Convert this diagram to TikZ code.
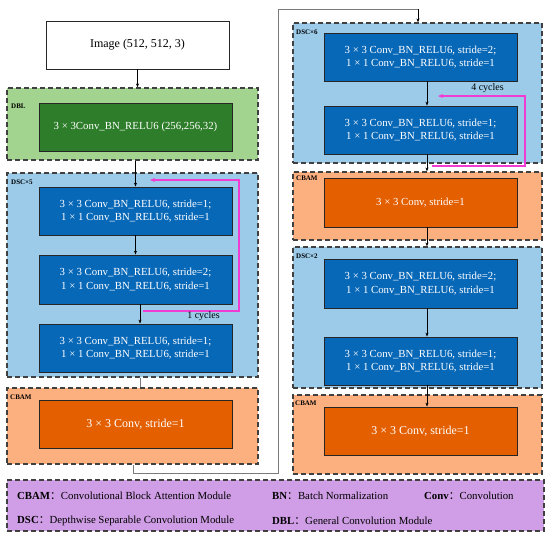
\documentclass[tikz,border=0pt]{standalone}
\usepackage{fontspec}
\setmainfont{Liberation Serif}
\newfontfamily\cjk{Noto Sans CJK SC}
\usetikzlibrary{arrows.meta}
\definecolor{lgreen}{HTML}{A2D490}
\definecolor{dgreen}{HTML}{2E7D2A}
\definecolor{lblue}{HTML}{9CCBEA}
\definecolor{dblue}{HTML}{0868B8}
\definecolor{lorange}{HTML}{FCB07F}
\definecolor{dorange}{HTML}{E35F00}
\definecolor{lpurple}{HTML}{D09EE6}
\definecolor{dashc}{HTML}{404040}
\definecolor{pinkc}{HTML}{F03CD2}
\definecolor{grayc}{HTML}{7A7A7A}
\newcommand{\fc}{{\cjk ：}}
\begin{document}
\begin{tikzpicture}[x=1pt,y=-1pt,
  outer/.style={draw=dashc, line width=1.2pt, dash pattern=on 5pt off 3pt, inner sep=0pt},
  inbox/.style={draw=black!85, line width=0.8pt, inner sep=0pt, text=white, align=center,
     minimum width=193pt, font=\fontsize{10.8}{13.5}\selectfont},
  grp/.style={font=\bfseries\fontsize{7}{8}\selectfont, anchor=west, inner sep=0pt},
  arr/.style={-{Stealth[length=4pt,width=3pt]}, line width=0.6pt, black},
  cyc/.style={-{Stealth[length=5pt,width=4pt]}, line width=1.2pt, pinkc},
  note/.style={font=\fontsize{10}{12}\selectfont, inner sep=0pt},
  leg/.style={font=\fontsize{10.8}{13}\selectfont, anchor=west, inner sep=0pt}]
\useasboundingbox (0,0) rectangle (550,539);

% outer groups
\node[outer, fill=lgreen, minimum width=251pt, minimum height=72pt] (dbl) at (132.5,124) {};
\node[outer, fill=lblue, minimum width=251pt, minimum height=204pt] (dsc5) at (132.5,275) {};
\node[outer, fill=lorange, minimum width=251pt, minimum height=76pt] (cbam1) at (132.5,426) {};
\node[outer, fill=lblue, minimum width=249pt, minimum height=140pt] (dsc6) at (417.5,93) {};
\node[outer, fill=lorange, minimum width=249pt, minimum height=68pt] (cbam2) at (417.5,206) {};
\node[outer, fill=lblue, minimum width=249pt, minimum height=141pt] (dsc2) at (417.5,317.5) {};
\node[outer, fill=lorange, minimum width=249pt, minimum height=79pt] (cbam3) at (417.5,434.5) {};
\node[outer, fill=lpurple, minimum width=537pt, minimum height=51pt] (legend) at (275.5,505.5) {};

% group labels
\node[grp] (ldbl) at (11,106) {DBL};
\node[grp] (ldsc5) at (11,182) {DSC×5};
\node[grp] (lcbam1) at (10,397) {CBAM};
\node[grp] (ldsc6) at (296,32) {DSC×6};
\node[grp] (lcbam2) at (296,178) {CBAM};
\node[grp] (ldsc2) at (296,256) {DSC×2};
\node[grp] (lcbam3) at (295,403) {CBAM};

% inner boxes
\node[draw=black!85, line width=0.8pt, fill=white, minimum width=183pt, minimum height=48pt,
  font=\fontsize{12}{14}\selectfont] (img) at (137.5,45) {Image (512, 512, 3)};
\node[inbox, fill=dgreen, minimum height=48pt] (dblc) at (135.5,127) {3 × 3Conv\_BN\_RELU6 (256,256,32)};
\node[inbox, fill=dblue, minimum height=48pt] (a1) at (135.5,211) {3 × 3 Conv\_BN\_RELU6, stride=1;\\1 × 1 Conv\_BN\_RELU6, stride=1};
\node[inbox, fill=dblue, minimum height=49pt] (a2) at (135.5,279.5) {3 × 3 Conv\_BN\_RELU6, stride=2;\\1 × 1 Conv\_BN\_RELU6, stride=1};
\node[inbox, fill=dblue, minimum height=48pt] (a3) at (135.5,348) {3 × 3 Conv\_BN\_RELU6, stride=1;\\1 × 1 Conv\_BN\_RELU6, stride=1};
\node[inbox, fill=dorange, minimum height=48pt, font=\fontsize{12}{14}\selectfont] (c1) at (135.5,424) {3 × 3 Conv, stride=1};
\node[inbox, fill=dblue, minimum height=48pt] (b1) at (420.5,57) {3 × 3 Conv\_BN\_RELU6, stride=2;\\1 × 1 Conv\_BN\_RELU6, stride=1};
\node[inbox, fill=dblue, minimum height=48pt] (b2) at (420.5,130) {3 × 3 Conv\_BN\_RELU6, stride=1;\\1 × 1 Conv\_BN\_RELU6, stride=1};
\node[inbox, fill=dorange, minimum height=49pt] (c2) at (420.5,202.5) {3 × 3 Conv, stride=1};
\node[inbox, fill=dblue, minimum height=49pt] (d1) at (420.5,283.5) {3 × 3 Conv\_BN\_RELU6, stride=2;\\1 × 1 Conv\_BN\_RELU6, stride=1};
\node[inbox, fill=dblue, minimum height=48pt] (d2) at (420.5,361) {3 × 3 Conv\_BN\_RELU6, stride=1;\\1 × 1 Conv\_BN\_RELU6, stride=1};
\node[inbox, fill=dorange, minimum height=48pt, font=\fontsize{12}{14}\selectfont] (c3) at (420.5,431) {3 × 3 Conv, stride=1};

% arrows left column
\draw[arr] (img.south) -- (dbl.north -| img.south);
\draw[arr] (dbl.south -| a1.north) -- (a1.north);
\draw[arr] (a1.south) -- (a2.north);
\draw[arr] ([xshift=4.5pt]a2.south) -- ([xshift=4.5pt]a3.north);
\draw[line width=0.8pt, grayc] ([xshift=7.5pt]dsc5.south) -- ([xshift=7.5pt]cbam1.north);

% long connector
\coordinate (g1) at (133,473);
\coordinate (g2) at (278,473);
\coordinate (g3) at (278,9);
\coordinate (g4) at (418,9);
\draw[line width=1pt, grayc] ([xshift=0.5pt]cbam1.south) -- (g1) -- (g2) -- (g3) -- (g4);
\draw[arr] (g4) -- (dsc6.north -| g4);

% arrows right column
\coordinate (b2s) at ([xshift=6.5pt]b2.south);
\coordinate (c2s) at ([xshift=6.5pt]c2.south);
\draw[arr] ([xshift=6.5pt]b1.south) -- ([xshift=6.5pt]b2.north);
\draw[arr] (b2s) -- (cbam2.north -| b2s);
\draw[arr] (c2s) -- (dsc2.north -| c2s);
\draw[arr] ([xshift=6.5pt]d1.south) -- ([xshift=6.5pt]d2.north);
\draw[arr] ([xshift=6.5pt]d2.south) -- ([xshift=6.5pt]c3.north);

% cycle loops
\coordinate (p1) at (143,311);
\coordinate (p2) at (239,311);
\coordinate (p3) at (239,180);
\coordinate (p4) at (150,180);
\draw[cyc] (p1) -- (p2) -- (p3) -- (p4);
\node[note] (n1) at (203.5,316) {1 cycles};
\coordinate (q1) at (432,166);
\coordinate (q2) at (525,166);
\coordinate (q3) at (525,96);
\coordinate (q4) at (438,96);
\draw[cyc] (q1) -- (q2) -- (q3) -- (q4);
\node[note] (n4) at (487.5,88) {4 cycles};

% legend
\node[leg] (l1) at (17,496) {\textbf{CBAM}\fc Convolutional Block Attention Module};
\node[leg] (l2) at (17,521) {\textbf{DSC}\fc Depthwise Separable Convolution Module};
\node[leg] (l3) at (272,496) {\textbf{BN}\fc Batch Normalization};
\node[leg] (l4) at (424,496) {\textbf{Conv}\fc Convolution};
\node[leg] (l5) at (272,521) {\textbf{DBL}\fc General Convolution Module};
\end{tikzpicture}
\end{document}
